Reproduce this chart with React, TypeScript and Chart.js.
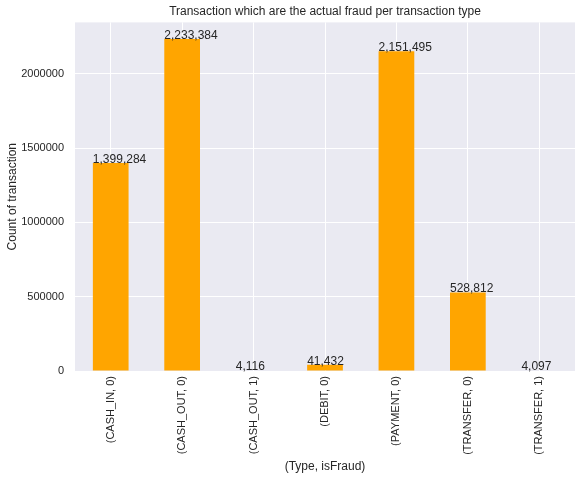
import React, { useEffect, useRef } from "react";
import { Chart, registerables } from "chart.js";

Chart.register(...registerables);

const categories = [
  "(CASH_IN, 0)",
  "(CASH_OUT, 0)",
  "(CASH_OUT, 1)",
  "(DEBIT, 0)",
  "(PAYMENT, 0)",
  "(TRANSFER, 0)",
  "(TRANSFER, 1)",
];
const counts = [1399284, 2233384, 4116, 41432, 2151495, 528812, 4097];
const yTicks = [0, 500000, 1000000, 1500000, 2000000];

const TEXT = "#262626";
const FONT = "'Liberation Sans', Arial, sans-serif";

const valueLabels = {
  id: "valueLabels",
  afterDatasetsDraw(chart: any) {
    const ctx = chart.ctx;
    const meta = chart.getDatasetMeta(0);
    ctx.save();
    ctx.font = `12px ${FONT}`;
    ctx.fillStyle = TEXT;
    ctx.textAlign = "left";
    ctx.textBaseline = "alphabetic";
    meta.data.forEach((bar: any, i: number) => {
      const x = bar.x - bar.width / 2;
      ctx.fillText(counts[i].toLocaleString("en-US"), x, bar.y);
    });
    ctx.restore();
  },
};

export default function App() {
  const ref = useRef<HTMLCanvasElement>(null);
  useEffect(() => {
    const maxVal = Math.max(...counts) * 1.05;
    const chart = new Chart(ref.current!, {
      type: "bar",
      data: {
        labels: categories,
        datasets: [
          {
            data: counts,
            backgroundColor: "#FFA500",
            borderWidth: 0,
            barPercentage: 0.5,
            categoryPercentage: 1.0,
          },
        ],
      },
      options: {
        responsive: false,
        animation: false,
        devicePixelRatio: 1,
        layout: { padding: { left: 0, right: 6, top: 0, bottom: 0 } },
        plugins: {
          legend: { display: false },
          tooltip: { enabled: false },
          title: {
            display: true,
            text: "Transaction which are the actual fraud per transaction type",
            fullSize: false,
            color: TEXT,
            font: { family: FONT, size: 12, weight: "normal" },
            padding: { top: 4, bottom: 4 },
          },
        },
        scales: {
          x: {
            grid: { color: "#ffffff", lineWidth: 1, offset: false, drawTicks: false },
            border: { display: false },
            ticks: {
              color: TEXT,
              font: { family: FONT, size: 11 },
              minRotation: 90,
              maxRotation: 90,
              padding: 5,
              autoSkip: false,
            },
            title: {
              display: true,
              text: "(Type, isFraud)",
              color: TEXT,
              font: { family: FONT, size: 12 },
              padding: { top: 6, bottom: 6 },
            },
            afterFit(scale: any) {
              scale.height = 109;
            },
          },
          y: {
            min: 0,
            max: maxVal,
            grid: { color: "#ffffff", lineWidth: 1, drawTicks: false },
            border: { display: false },
            afterBuildTicks(scale: any) {
              scale.ticks = yTicks.map((v) => ({ value: v }));
            },
            ticks: {
              color: TEXT,
              font: { family: FONT, size: 11 },
              padding: 11,
              callback: (v: any) => String(v),
            },
            title: {
              display: true,
              text: "Count of transaction",
              color: TEXT,
              font: { family: FONT, size: 12 },
              padding: { top: 5, bottom: 0 },
            },
            afterFit(scale: any) {
              scale.width = 75;
            },
          },
        },
      },
      plugins: [
        {
          id: "bg",
          beforeDraw(c: any) {
            const { ctx, chartArea } = c;
            ctx.save();
            ctx.fillStyle = "#ffffff";
            ctx.fillRect(0, 0, c.width, c.height);
            ctx.fillStyle = "#EAEAF2";
            ctx.fillRect(
              chartArea.left,
              chartArea.top,
              chartArea.right - chartArea.left,
              chartArea.bottom - chartArea.top
            );
            ctx.restore();
          },
        },
        valueLabels,
      ],
    } as any);
    return () => chart.destroy();
  }, []);
  return (
    <div style={{ position: "absolute", left: 0, top: 0 }}>
      <canvas ref={ref} width={581} height={480} />
    </div>
  );
}
